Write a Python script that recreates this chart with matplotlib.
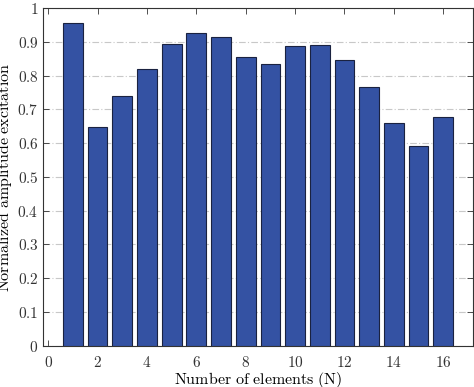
import numpy as np
import matplotlib
matplotlib.use("Agg")
import matplotlib.pyplot as plt

plt.rcParams['mathtext.fontset'] = 'cm'
plt.rcParams['font.family'] = 'serif'
plt.rcParams['font.serif'] = ['cmr10', 'DejaVu Serif']
plt.rcParams['axes.formatter.use_mathtext'] = True

# Normalized amplitude per element
elements = np.arange(1, 17)
amplitude = [0.956, 0.648, 0.739, 0.820, 0.894, 0.926, 0.915, 0.854,
             0.835, 0.888, 0.891, 0.846, 0.767, 0.660, 0.591, 0.677]
xticks = [0, 2, 4, 6, 8, 10, 12, 14, 16]
yticks = [0, 0.1, 0.2, 0.3, 0.4, 0.5, 0.6, 0.7, 0.8, 0.9, 1]

fig = plt.figure(figsize=(4.74, 3.87), dpi=100)
ax = fig.add_axes([0.0914, 0.1067, 0.906, 0.8723])

ax.bar(elements, amplitude, width=0.8, color="#3452a3", edgecolor="#1a2240",
       linewidth=0.8, zorder=3)

ax.set_xlim(-0.2, 17.2)
ax.set_ylim(0, 1)
ax.set_xticks(xticks)
ax.set_yticks(yticks)
ax.set_xticklabels([f"${t}$" for t in xticks], fontsize=11)
ax.set_yticklabels(["$0$"] + [f"${t:.1f}$" for t in yticks[1:-1]] + ["$1$"], fontsize=11)
ax.yaxis.grid(True, linestyle=(0, (6, 2, 1, 2)), color="#c8c8c8", linewidth=0.8, zorder=0)
ax.tick_params(direction="in", top=True, right=True, length=4, width=0.6, colors="#333333")
ax.tick_params(axis="x", pad=7)
for s in ax.spines.values():
    s.set_color("#333333")
    s.set_linewidth(0.8)

ax.set_xlabel(r"$\mathrm{Number\ of\ elements\ (N)}$", fontsize=11.5, labelpad=-0.5)
ax.set_ylabel(r"$\mathrm{Normalized\ amplitude\ excitation}$", fontsize=11.5, labelpad=2)

fig.savefig("out.png", dpi=100)
